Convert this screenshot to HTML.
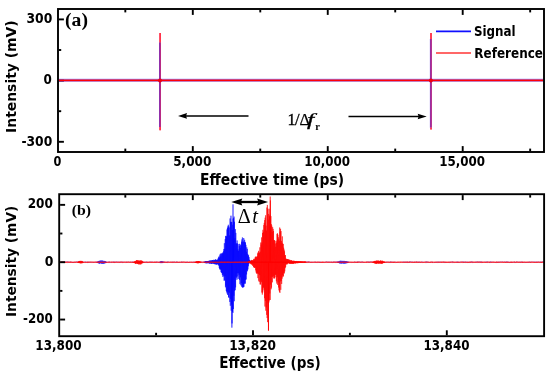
<!DOCTYPE html>
<html><head><meta charset="utf-8"><style>
html,body{margin:0;padding:0;background:#fff;width:550px;height:377px;overflow:hidden}
svg{display:block}
</style></head><body>
<svg width="550" height="377" viewBox="0 0 550 377">
<rect width="550" height="377" fill="#fff"/>
<rect x="58.00" y="9.00" width="486.00" height="143.00" fill="none" stroke="#000" stroke-width="1.9"/>
<line x1="125.32" y1="151.10" x2="125.32" y2="148.60" stroke="#000" stroke-width="1.9"/>
<line x1="125.32" y1="9.90" x2="125.32" y2="12.40" stroke="#000" stroke-width="1.9"/>
<line x1="192.80" y1="151.10" x2="192.80" y2="146.10" stroke="#000" stroke-width="1.9"/>
<line x1="192.80" y1="9.90" x2="192.80" y2="14.90" stroke="#000" stroke-width="1.9"/>
<line x1="260.27" y1="151.10" x2="260.27" y2="148.60" stroke="#000" stroke-width="1.9"/>
<line x1="260.27" y1="9.90" x2="260.27" y2="12.40" stroke="#000" stroke-width="1.9"/>
<line x1="327.75" y1="151.10" x2="327.75" y2="146.10" stroke="#000" stroke-width="1.9"/>
<line x1="327.75" y1="9.90" x2="327.75" y2="14.90" stroke="#000" stroke-width="1.9"/>
<line x1="395.22" y1="151.10" x2="395.22" y2="148.60" stroke="#000" stroke-width="1.9"/>
<line x1="395.22" y1="9.90" x2="395.22" y2="12.40" stroke="#000" stroke-width="1.9"/>
<line x1="462.70" y1="151.10" x2="462.70" y2="146.10" stroke="#000" stroke-width="1.9"/>
<line x1="462.70" y1="9.90" x2="462.70" y2="14.90" stroke="#000" stroke-width="1.9"/>
<line x1="530.17" y1="151.10" x2="530.17" y2="148.60" stroke="#000" stroke-width="1.9"/>
<line x1="530.17" y1="9.90" x2="530.17" y2="12.40" stroke="#000" stroke-width="1.9"/>
<line x1="58.90" y1="141.80" x2="63.90" y2="141.80" stroke="#000" stroke-width="1.9"/>
<line x1="58.90" y1="111.20" x2="61.20" y2="111.20" stroke="#000" stroke-width="1.9"/>
<line x1="58.90" y1="80.60" x2="63.90" y2="80.60" stroke="#000" stroke-width="1.9"/>
<line x1="58.90" y1="50.00" x2="61.20" y2="50.00" stroke="#000" stroke-width="1.9"/>
<line x1="58.90" y1="19.40" x2="63.90" y2="19.40" stroke="#000" stroke-width="1.9"/>
<line x1="59.0" y1="80.25" x2="543.0" y2="80.25" stroke="#3a30ff" stroke-width="3.1" opacity="0.55"/>
<line x1="59.0" y1="80.45" x2="543.0" y2="80.45" stroke="#ff0008" stroke-width="1.7"/>
<line x1="160.0" y1="42.2" x2="160.0" y2="127.0" stroke="#5a38e0" stroke-width="2"/>
<line x1="160.2" y1="33" x2="160.2" y2="130.2" stroke="#ff2040" stroke-width="1.5" opacity="0.6"/>
<line x1="160.1" y1="33" x2="160.1" y2="42.2" stroke="#ff3048" stroke-width="1.7"/>
<line x1="160.1" y1="127.0" x2="160.1" y2="130.2" stroke="#ff3048" stroke-width="1.7"/>
<circle cx="160.0" cy="80.4" r="2" fill="#f00010"/>
<line x1="430.9" y1="39.0" x2="430.9" y2="127.7" stroke="#5a38e0" stroke-width="2"/>
<line x1="431.09999999999997" y1="33" x2="431.09999999999997" y2="129.4" stroke="#ff2040" stroke-width="1.5" opacity="0.6"/>
<line x1="431.0" y1="33" x2="431.0" y2="39.0" stroke="#ff3048" stroke-width="1.7"/>
<line x1="431.0" y1="127.7" x2="431.0" y2="129.4" stroke="#ff3048" stroke-width="1.7"/>
<circle cx="430.9" cy="80.4" r="2" fill="#f00010"/>
<text x="53.60" y="165.90" font-family="'DejaVu Sans Condensed', 'DejaVu Sans', sans-serif" font-weight="bold" font-size="14" textLength="7.85" lengthAdjust="spacingAndGlyphs">0</text>
<text x="173.19" y="165.90" font-family="'DejaVu Sans Condensed', 'DejaVu Sans', sans-serif" font-weight="bold" font-size="14" textLength="38.19" lengthAdjust="spacingAndGlyphs">5,000</text>
<text x="304.18" y="165.80" font-family="'DejaVu Sans Condensed', 'DejaVu Sans', sans-serif" font-weight="bold" font-size="14" textLength="45.90" lengthAdjust="spacingAndGlyphs">10,000</text>
<text x="439.18" y="165.80" font-family="'DejaVu Sans Condensed', 'DejaVu Sans', sans-serif" font-weight="bold" font-size="14" textLength="45.90" lengthAdjust="spacingAndGlyphs">15,000</text>
<text x="26.48" y="23.00" font-family="'DejaVu Sans Condensed', 'DejaVu Sans', sans-serif" font-weight="bold" font-size="14" textLength="25.82" lengthAdjust="spacingAndGlyphs">300</text>
<text x="43.47" y="84.30" font-family="'DejaVu Sans Condensed', 'DejaVu Sans', sans-serif" font-weight="bold" font-size="14" textLength="8.31" lengthAdjust="spacingAndGlyphs">0</text>
<text x="21.45" y="145.50" font-family="'DejaVu Sans Condensed', 'DejaVu Sans', sans-serif" font-weight="bold" font-size="14" textLength="30.84" lengthAdjust="spacingAndGlyphs">-300</text>
<text x="200.07" y="185.00" font-family="'DejaVu Sans Condensed', 'DejaVu Sans', sans-serif" font-weight="bold" font-size="15.6" textLength="144.03" lengthAdjust="spacingAndGlyphs">Effective time (ps)</text>
<text transform="translate(16.10,132.94) rotate(-90)" x="0" y="0" font-family="'DejaVu Sans Condensed', 'DejaVu Sans', sans-serif" font-weight="bold" font-size="14.4" textLength="112.64" lengthAdjust="spacingAndGlyphs">Intensity (mV)</text>
<text x="65.05" y="25.60" font-family="'Liberation Serif', 'Times New Roman', serif" font-weight="bold" font-size="18" text-anchor="start" textLength="22.9" lengthAdjust="spacingAndGlyphs">(a)</text>
<line x1="436" y1="31.3" x2="471" y2="31.3" stroke="#1010ff" stroke-width="1.7"/>
<line x1="436" y1="53.0" x2="471" y2="53.0" stroke="#ff3535" stroke-width="1.5"/>
<text x="473.91" y="35.50" font-family="'DejaVu Sans Condensed', 'DejaVu Sans', sans-serif" font-weight="bold" font-size="13.7" textLength="41.69" lengthAdjust="spacingAndGlyphs">Signal</text>
<text x="474.33" y="57.70" font-family="'DejaVu Sans Condensed', 'DejaVu Sans', sans-serif" font-weight="bold" font-size="13.7" textLength="68.61" lengthAdjust="spacingAndGlyphs">Reference</text>
<line x1="183.40" y1="115.9" x2="248.5" y2="115.9" stroke="#000" stroke-width="1.5"/>
<path d="M178.0,115.9 L187.00,113.10 L186.10,115.9 L187.00,118.70 Z" fill="#000"/>
<line x1="421.30" y1="116.5" x2="348.5" y2="116.5" stroke="#000" stroke-width="1.5"/>
<path d="M426.7,116.5 L417.70,113.70 L418.60,116.5 L417.70,119.30 Z" fill="#000"/>
<text x="287.4" y="124.7" font-family="'Liberation Serif', 'Times New Roman', serif" font-size="16.3" letter-spacing="-0.5" stroke="#000" stroke-width="0.35">1/</text>
<text x="299.5" y="124.7" font-family="'Liberation Serif', 'Times New Roman', serif" font-size="16.3" stroke="#000" stroke-width="0.25">Δ</text>
<text x="306.9" y="124.7" font-family="'Liberation Serif', 'Times New Roman', serif" font-size="16.8" font-style="italic" stroke="#000" stroke-width="0.3" textLength="7.2" lengthAdjust="spacingAndGlyphs">f</text>
<text x="315.3" y="129.8" font-family="'Liberation Serif', 'Times New Roman', serif" font-size="10.5" font-weight="bold">r</text>
<polyline points="59.20,262.05 59.65,262.82 60.10,261.63 60.55,262.63 61.00,262.01 61.45,262.91 61.90,261.47 62.35,262.66 62.80,261.75 63.25,262.41 63.70,262.20 64.15,262.53 64.60,261.67 65.05,262.26 65.50,261.49 65.95,262.41 66.40,261.99 66.85,262.24 67.30,261.30 67.75,262.86 68.20,261.41 68.65,262.75 69.10,262.17 69.55,262.50 70.00,261.75 70.45,262.30 70.90,261.34 71.35,262.53 71.80,262.06 72.25,262.94 72.70,262.09 73.15,263.04 73.60,261.79 74.05,262.70 74.50,261.89 74.95,262.64 75.40,262.03 75.85,262.23 76.30,261.42 76.75,262.41 77.20,261.50 77.65,262.39 78.10,261.33 78.55,263.00 79.00,261.52 79.45,262.89 79.90,261.68 80.35,262.86 80.80,262.09 81.25,262.63 81.70,261.46 82.15,262.38 82.60,261.37 83.05,263.00 83.50,261.83 83.95,262.53 84.40,261.79 84.85,262.55 85.30,261.30 85.75,262.55 86.20,262.18 86.65,262.28 87.10,261.55 87.55,263.09 88.00,261.75 88.45,262.64 88.90,261.70 89.35,262.87 89.80,262.00 90.25,262.75 90.70,261.70 91.15,262.76 91.60,262.04 92.05,262.35 92.50,261.89 92.95,263.03 93.40,261.89 93.85,262.74 94.30,261.92 94.75,262.29 95.20,262.14 95.65,262.93 96.10,261.50 96.55,262.54 97.00,261.58 97.45,262.81 97.90,261.39 98.35,263.06 98.80,261.83 99.25,263.09 99.70,261.33 100.15,262.73 100.60,261.41 101.05,262.64 101.50,261.86 101.95,262.42 102.40,261.41 102.85,262.35 103.30,262.14 103.75,262.92 104.20,261.50 104.65,262.63 105.10,261.45 105.55,262.25 106.00,261.97 106.45,262.46 106.90,261.82 107.35,262.35 107.80,262.14 108.25,262.50 108.70,261.39 109.15,263.09 109.60,261.53 110.05,262.63 110.50,261.97 110.95,263.06 111.40,261.73 111.85,262.86 112.30,262.17 112.75,262.39 113.20,261.45 113.65,262.92 114.10,261.41 114.55,262.74 115.00,261.82 115.45,262.72 115.90,261.44 116.35,262.48 116.80,261.72 117.25,262.45 117.70,261.51 118.15,262.21 118.60,261.58 119.05,263.06 119.50,262.18 119.95,262.73 120.40,261.62 120.85,262.97 121.30,261.67 121.75,262.43 122.20,261.83 122.65,263.06 123.10,261.38 123.55,262.32 124.00,262.11 124.45,262.28 124.90,262.18 125.35,262.60 125.80,262.07 126.25,262.98 126.70,261.61 127.15,262.31 127.60,261.72 128.05,262.49 128.50,261.76 128.95,262.40 129.40,262.05 129.85,262.37 130.30,261.86 130.75,262.84 131.20,261.70 131.65,262.24 132.10,261.56 132.55,262.99 133.00,261.50 133.45,262.91 133.90,262.19 134.35,262.62 134.80,262.14 135.25,262.89 135.70,262.04 136.15,262.84 136.60,261.97 137.05,262.83 137.50,261.92 137.95,262.24 138.40,261.85 138.85,262.48 139.30,261.39 139.75,262.47 140.20,261.75 140.65,262.69 141.10,261.35 141.55,262.29 142.00,261.66 142.45,262.66 142.90,261.54 143.35,263.07 143.80,261.92 144.25,262.83 144.70,261.73 145.15,262.70 145.60,262.14 146.05,262.93 146.50,261.32 146.95,262.52 147.40,261.91 147.85,263.09 148.30,262.10 148.75,262.27 149.20,262.13 149.65,262.93 150.10,261.52 150.55,262.60 151.00,261.64 151.45,262.22 151.90,261.62 152.35,262.60 152.80,261.73 153.25,262.55 153.70,261.84 154.15,262.40 154.60,262.16 155.05,262.59 155.50,261.98 155.95,262.83 156.40,261.46 156.85,262.85 157.30,261.79 157.75,262.41 158.20,261.85 158.65,262.64 159.10,261.63 159.55,263.07 160.00,262.12 160.45,262.63 160.90,261.76 161.35,262.85 161.80,261.40 162.25,262.90 162.70,261.64 163.15,262.88 163.60,261.60 164.05,262.97 164.50,261.57 164.95,262.81 165.40,261.98 165.85,263.03 166.30,261.85 166.75,262.75 167.20,261.46 167.65,263.07 168.10,261.31 168.55,262.21 169.00,261.92 169.45,262.48 169.90,261.85 170.35,262.33 170.80,261.70 171.25,262.27 171.70,261.93 172.15,263.05 172.60,261.53 173.05,262.62 173.50,262.10 173.95,263.06 174.40,261.57 174.85,262.39 175.30,261.90 175.75,262.78 176.20,261.59 176.65,262.43 177.10,261.34 177.55,262.49 178.00,261.97 178.45,262.96 178.90,262.06 179.35,262.81 179.80,262.02 180.25,262.74 180.70,261.95 181.15,262.54 181.60,261.35 182.05,262.62 182.50,261.81 182.95,262.76 183.40,261.95 183.85,262.36 184.30,261.85 184.75,262.45 185.20,262.03 185.65,263.06 186.10,262.17 186.55,262.93 187.00,261.36 187.45,262.83 187.90,262.18 188.35,262.65 188.80,262.16 189.25,262.75 189.70,261.57 190.15,262.42 190.60,262.19 191.05,262.69 191.50,262.11 191.95,262.48 192.40,261.79 192.85,263.01 193.30,261.87 193.75,262.32 194.20,261.49 194.65,262.94 195.10,261.72 195.55,262.24 196.00,262.03 196.45,262.56 196.90,261.70 197.35,262.40 197.80,261.48 198.25,262.96 198.70,261.37 199.15,263.00 199.60,262.18 200.05,262.72 200.50,262.13 200.95,263.01 201.40,261.53 201.85,262.88 202.30,262.03 202.75,262.25 203.20,261.47 203.65,262.75 204.10,261.64 204.55,262.62 205.00,261.48 205.45,262.50 205.90,261.96 206.35,262.52 206.80,261.93 207.25,262.76 207.70,261.40 208.15,262.26 208.60,262.14 209.05,262.66 209.50,261.59 209.95,262.37 210.40,261.96 210.85,262.25 211.30,262.17 211.75,262.65 212.20,261.59 212.65,262.79 213.10,262.06 213.55,262.29 214.00,261.36 214.45,262.68 214.90,261.83 215.35,262.82 215.80,261.54 216.25,262.67 216.70,262.13 217.15,262.94 217.60,262.01 218.05,262.24 218.50,261.88 218.95,262.68 219.40,261.63 219.85,262.36 220.30,261.56 220.75,262.64 221.20,262.05 221.65,262.97 222.10,261.47 222.55,263.02 223.00,261.59 223.45,262.40 223.90,261.50 224.35,263.01 224.80,261.72 225.25,263.02 225.70,261.33 226.15,262.55 226.60,261.35 227.05,263.04 227.50,261.49 227.95,262.21 228.40,261.88 228.85,262.75 229.30,261.65 229.75,262.88 230.20,261.62 230.65,262.35 231.10,261.36 231.55,262.68 232.00,261.41 232.45,262.39 232.90,261.30 233.35,262.70 233.80,261.50 234.25,262.87 234.70,261.41 235.15,262.53 235.60,262.13 236.05,262.57 236.50,262.04 236.95,262.69 237.40,261.47 237.85,262.53 238.30,262.08 238.75,262.22 239.20,261.82 239.65,262.72 240.10,262.18 240.55,262.80 241.00,262.01 241.45,262.30 241.90,261.37 242.35,262.67 242.80,261.39 243.25,262.66 243.70,262.09 244.15,262.42 244.60,261.82 245.05,262.78 245.50,261.51 245.95,262.88 246.40,261.61 246.85,262.43 247.30,261.81 247.75,262.54 248.20,261.76 248.65,262.44 249.10,261.72 249.55,262.61 250.00,262.17 250.45,262.94 250.90,261.67 251.35,262.92 251.80,261.54 252.25,262.86 252.70,261.31 253.15,262.54 253.60,261.85 254.05,262.20 254.50,261.60 254.95,262.72 255.40,261.68 255.85,263.10 256.30,262.02 256.75,262.40 257.20,261.54 257.65,262.93 258.10,261.77 258.55,262.25 259.00,261.87 259.45,262.94 259.90,261.75 260.35,262.62 260.80,261.85 261.25,262.77 261.70,261.66 262.15,262.82 262.60,261.42 263.05,262.88 263.50,261.86 263.95,262.43 264.40,261.50 264.85,262.91 265.30,261.36 265.75,262.38 266.20,261.44 266.65,263.00 267.10,262.13 267.55,262.48 268.00,261.63 268.45,262.33 268.90,261.45 269.35,262.44 269.80,261.59 270.25,262.47 270.70,262.00 271.15,262.39 271.60,261.75 272.05,262.84 272.50,262.00 272.95,262.82 273.40,261.90 273.85,262.78 274.30,261.87 274.75,262.37 275.20,262.07 275.65,262.25 276.10,261.57 276.55,262.57 277.00,262.09 277.45,262.99 277.90,261.61 278.35,262.22 278.80,261.55 279.25,262.74 279.70,261.80 280.15,262.65 280.60,261.33 281.05,262.54 281.50,261.63 281.95,262.77 282.40,261.87 282.85,262.51 283.30,261.52 283.75,262.77 284.20,261.79 284.65,262.66 285.10,262.00 285.55,262.91 286.00,262.18 286.45,262.78 286.90,261.79 287.35,262.40 287.80,261.67 288.25,262.72 288.70,262.12 289.15,262.64 289.60,262.05 290.05,262.92 290.50,261.91 290.95,262.50 291.40,262.01 291.85,262.24 292.30,262.03 292.75,262.34 293.20,261.64 293.65,262.96 294.10,262.00 294.55,262.30 295.00,261.72 295.45,262.30 295.90,261.84 296.35,262.88 296.80,262.02 297.25,262.83 297.70,261.72 298.15,262.28 298.60,261.98 299.05,262.74 299.50,262.11 299.95,262.38 300.40,261.68 300.85,262.94 301.30,261.73 301.75,262.80 302.20,262.19 302.65,262.47 303.10,261.91 303.55,263.02 304.00,261.88 304.45,262.91 304.90,262.17 305.35,262.65 305.80,261.40 306.25,262.89 306.70,261.68 307.15,262.36 307.60,261.37 308.05,262.27 308.50,261.33 308.95,262.90 309.40,261.55 309.85,262.68 310.30,262.05 310.75,262.51 311.20,261.60 311.65,262.79 312.10,261.85 312.55,262.92 313.00,262.15 313.45,262.46 313.90,262.12 314.35,262.49 314.80,261.49 315.25,262.88 315.70,262.07 316.15,262.48 316.60,262.10 317.05,262.80 317.50,261.80 317.95,262.41 318.40,261.86 318.85,262.98 319.30,261.82 319.75,262.82 320.20,261.64 320.65,262.63 321.10,261.70 321.55,262.53 322.00,262.02 322.45,262.64 322.90,261.93 323.35,262.50 323.80,262.03 324.25,263.02 324.70,261.82 325.15,262.38 325.60,262.17 326.05,262.39 326.50,261.42 326.95,262.50 327.40,261.60 327.85,262.41 328.30,261.61 328.75,262.61 329.20,261.54 329.65,262.68 330.10,261.86 330.55,262.45 331.00,261.67 331.45,262.95 331.90,261.58 332.35,262.63 332.80,261.90 333.25,263.00 333.70,261.44 334.15,262.33 334.60,261.59 335.05,262.89 335.50,261.59 335.95,263.07 336.40,261.41 336.85,262.42 337.30,261.30 337.75,262.49 338.20,261.86 338.65,263.08 339.10,262.05 339.55,262.56 340.00,261.64 340.45,262.45 340.90,261.96 341.35,262.91 341.80,261.65 342.25,262.87 342.70,261.49 343.15,262.98 343.60,261.40 344.05,262.94 344.50,261.32 344.95,262.65 345.40,261.57 345.85,262.66 346.30,261.33 346.75,262.79 347.20,261.81 347.65,262.80 348.10,261.93 348.55,262.32 349.00,261.85 349.45,262.32 349.90,262.20 350.35,262.28 350.80,261.79 351.25,262.89 351.70,262.16 352.15,262.77 352.60,262.10 353.05,262.66 353.50,261.93 353.95,262.60 354.40,261.56 354.85,262.57 355.30,261.85 355.75,262.86 356.20,262.10 356.65,262.51 357.10,261.57 357.55,262.95 358.00,261.32 358.45,262.43 358.90,261.64 359.35,262.48 359.80,261.57 360.25,262.96 360.70,262.08 361.15,262.51 361.60,261.36 362.05,262.52 362.50,261.63 362.95,262.94 363.40,261.95 363.85,262.91 364.30,262.20 364.75,262.51 365.20,262.05 365.65,262.51 366.10,262.01 366.55,262.22 367.00,261.48 367.45,262.36 367.90,261.68 368.35,262.70 368.80,261.44 369.25,262.96 369.70,261.64 370.15,262.35 370.60,261.52 371.05,262.29 371.50,261.36 371.95,262.48 372.40,261.97 372.85,262.39 373.30,261.84 373.75,262.91 374.20,261.43 374.65,262.87 375.10,261.54 375.55,262.42 376.00,261.91 376.45,262.47 376.90,261.81 377.35,262.99 377.80,261.30 378.25,262.28 378.70,261.33 379.15,263.03 379.60,261.79 380.05,262.82 380.50,261.49 380.95,262.37 381.40,261.65 381.85,263.08 382.30,261.41 382.75,263.02 383.20,262.12 383.65,262.84 384.10,261.76 384.55,263.02 385.00,262.05 385.45,262.69 385.90,262.09 386.35,262.92 386.80,261.55 387.25,262.23 387.70,261.92 388.15,262.33 388.60,261.63 389.05,262.77 389.50,262.14 389.95,263.06 390.40,261.33 390.85,262.60 391.30,261.68 391.75,262.53 392.20,261.65 392.65,262.56 393.10,261.80 393.55,262.87 394.00,262.03 394.45,262.47 394.90,261.51 395.35,262.40 395.80,262.14 396.25,263.02 396.70,262.06 397.15,262.57 397.60,261.92 398.05,262.44 398.50,261.88 398.95,262.68 399.40,262.10 399.85,262.68 400.30,262.15 400.75,262.27 401.20,262.02 401.65,262.42 402.10,261.89 402.55,262.46 403.00,261.45 403.45,262.79 403.90,261.77 404.35,262.89 404.80,261.58 405.25,262.48 405.70,261.65 406.15,262.87 406.60,261.72 407.05,262.88 407.50,261.63 407.95,263.04 408.40,261.96 408.85,262.80 409.30,261.32 409.75,262.68 410.20,261.39 410.65,262.29 411.10,261.55 411.55,262.44 412.00,261.52 412.45,262.58 412.90,261.72 413.35,262.42 413.80,261.97 414.25,262.98 414.70,261.62 415.15,262.77 415.60,262.10 416.05,262.46 416.50,261.33 416.95,262.38 417.40,261.72 417.85,262.83 418.30,261.74 418.75,262.70 419.20,261.33 419.65,262.90 420.10,261.99 420.55,262.59 421.00,261.82 421.45,262.82 421.90,261.59 422.35,262.43 422.80,261.58 423.25,262.59 423.70,262.19 424.15,262.46 424.60,261.86 425.05,262.38 425.50,261.60 425.95,263.09 426.40,261.36 426.85,262.77 427.30,261.43 427.75,262.64 428.20,261.67 428.65,263.00 429.10,262.15 429.55,262.53 430.00,261.86 430.45,262.51 430.90,261.81 431.35,262.25 431.80,261.59 432.25,263.06 432.70,261.99 433.15,262.37 433.60,261.90 434.05,262.92 434.50,262.00 434.95,262.89 435.40,262.04 435.85,262.74 436.30,261.55 436.75,262.81 437.20,262.12 437.65,263.06 438.10,261.44 438.55,262.63 439.00,261.43 439.45,262.74 439.90,262.05 440.35,262.56 440.80,261.46 441.25,262.62 441.70,262.16 442.15,262.35 442.60,262.03 443.05,262.73 443.50,261.62 443.95,262.60 444.40,261.84 444.85,263.07 445.30,261.89 445.75,262.80 446.20,262.02 446.65,262.66 447.10,262.04 447.55,262.30 448.00,261.90 448.45,262.30 448.90,261.86 449.35,262.79 449.80,261.71 450.25,262.92 450.70,261.77 451.15,262.28 451.60,261.55 452.05,262.56 452.50,261.52 452.95,263.08 453.40,261.73 453.85,262.43 454.30,261.88 454.75,262.65 455.20,261.91 455.65,262.29 456.10,261.84 456.55,262.79 457.00,261.47 457.45,262.89 457.90,261.40 458.35,262.92 458.80,261.83 459.25,262.78 459.70,262.15 460.15,262.91 460.60,261.56 461.05,262.44 461.50,261.77 461.95,262.44 462.40,261.48 462.85,262.58 463.30,261.50 463.75,263.03 464.20,261.50 464.65,262.54 465.10,261.89 465.55,263.05 466.00,261.39 466.45,262.37 466.90,261.87 467.35,262.91 467.80,261.52 468.25,262.45 468.70,261.80 469.15,263.07 469.60,262.12 470.05,262.45 470.50,261.60 470.95,263.02 471.40,261.35 471.85,262.62 472.30,261.49 472.75,263.08 473.20,261.90 473.65,262.40 474.10,261.97 474.55,262.90 475.00,262.07 475.45,262.69 475.90,261.36 476.35,262.38 476.80,261.63 477.25,262.68 477.70,261.33 478.15,262.66 478.60,261.76 479.05,263.01 479.50,261.52 479.95,262.33 480.40,261.48 480.85,262.56 481.30,261.33 481.75,263.07 482.20,261.76 482.65,262.57 483.10,262.00 483.55,262.45 484.00,262.01 484.45,262.35 484.90,261.54 485.35,262.25 485.80,261.66 486.25,262.74 486.70,261.54 487.15,262.71 487.60,261.37 488.05,262.45 488.50,262.12 488.95,262.72 489.40,261.96 489.85,263.09 490.30,261.37 490.75,262.82 491.20,261.45 491.65,262.42 492.10,261.76 492.55,262.54 493.00,261.89 493.45,262.54 493.90,261.77 494.35,262.79 494.80,262.18 495.25,262.69 495.70,262.08 496.15,263.07 496.60,261.70 497.05,262.73 497.50,261.92 497.95,262.84 498.40,261.56 498.85,263.02 499.30,261.68 499.75,262.44 500.20,261.63 500.65,262.25 501.10,261.53 501.55,262.48 502.00,261.55 502.45,262.32 502.90,261.66 503.35,262.35 503.80,262.17 504.25,262.44 504.70,261.44 505.15,262.55 505.60,261.73 506.05,262.91 506.50,261.32 506.95,262.43 507.40,261.58 507.85,262.90 508.30,261.49 508.75,262.51 509.20,261.77 509.65,262.91 510.10,261.97 510.55,262.64 511.00,261.63 511.45,262.97 511.90,261.98 512.35,262.80 512.80,262.00 513.25,262.34 513.70,261.77 514.15,262.78 514.60,261.62 515.05,263.05 515.50,262.05 515.95,262.68 516.40,261.77 516.85,262.43 517.30,261.37 517.75,262.33 518.20,261.97 518.65,262.24 519.10,261.62 519.55,262.79 520.00,262.00 520.45,263.03 520.90,261.63 521.35,262.38 521.80,261.35 522.25,262.97 522.70,261.92 523.15,262.98 523.60,262.08 524.05,262.51 524.50,261.82 524.95,263.06 525.40,261.93 525.85,262.55 526.30,262.01 526.75,262.94 527.20,262.03 527.65,262.96 528.10,261.89 528.55,262.69 529.00,261.41 529.45,262.44 529.90,261.72 530.35,262.77 530.80,261.68 531.25,262.57 531.70,261.62 532.15,262.48 532.60,262.06 533.05,262.21 533.50,261.65 533.95,262.72 534.40,261.48 534.85,262.34 535.30,261.59 535.75,262.61 536.20,261.73 536.65,262.95 537.10,261.73 537.55,262.59 538.00,261.62 538.45,262.33 538.90,261.41 539.35,262.67 539.80,262.16 540.25,262.63 540.70,261.35 541.15,263.08 541.60,261.82 542.05,262.44 542.50,261.36 542.95,262.46 543.40,262.18 543.85,262.42" fill="none" stroke="#4030ff" stroke-width="0.6" opacity="0.5"/>
<polyline points="96.80,262.04 97.10,262.51 97.40,261.86 97.70,262.86 98.00,261.60 98.30,263.24 98.60,261.07 98.90,263.38 99.20,260.88 99.50,263.80 99.80,260.77 100.10,263.20 100.40,260.60 100.70,263.35 101.00,260.69 101.30,263.62 101.60,260.60 101.90,263.80 102.20,260.60 102.50,263.67 102.80,260.64 103.10,263.80 103.40,261.15 103.70,263.78 104.00,260.84 104.30,263.48 104.60,261.14 104.90,263.25 105.20,261.10 105.50,263.10 105.80,261.44 106.10,262.79 106.40,261.92 106.70,262.46" fill="none" stroke="#2020ff" stroke-width="0.6" stroke-linejoin="round"/>
<polyline points="337.00,262.07 337.30,262.41 337.60,261.87 337.90,262.76 338.20,261.52 338.50,263.00 338.80,261.45 339.10,262.90 339.40,261.40 339.70,263.48 340.00,260.80 340.30,263.60 340.60,260.80 340.90,263.21 341.20,260.95 341.50,263.60 341.80,260.80 342.10,263.38 342.40,261.08 342.70,263.31 343.00,260.84 343.30,263.60 343.60,261.19 343.90,263.60 344.20,260.87 344.50,263.60 344.80,261.13 345.10,263.28 345.40,261.19 345.70,263.60 346.00,261.33 346.30,263.11 346.60,261.29 346.90,263.24 347.20,261.50 347.50,262.88 347.80,261.70 348.10,262.76 348.40,261.84 348.70,262.52" fill="none" stroke="#2020ff" stroke-width="0.6" stroke-linejoin="round"/>
<polyline points="159.70,262.02 160.00,262.64 160.30,261.52 160.60,263.12 160.90,261.20 161.20,262.99 161.50,261.20 161.80,263.16 162.10,261.41 162.40,263.02 162.70,261.59 163.00,262.74 163.30,261.68 163.60,262.48" fill="none" stroke="#2020ff" stroke-width="0.6" stroke-linejoin="round"/>
<polyline points="203.90,262.00 204.20,262.59 204.50,261.79 204.80,262.87 205.10,261.33 205.40,263.11 205.70,261.28 206.00,263.20 206.30,261.38 206.60,262.88 206.90,261.28 207.20,263.12 207.50,261.26 207.80,262.78 208.10,261.49 208.40,262.72 208.70,261.99" fill="none" stroke="#2020ff" stroke-width="0.6" stroke-linejoin="round"/>
<polyline points="205.00,261.62 205.22,263.03 205.44,261.57 205.66,262.79 205.88,261.46 206.10,263.14 206.32,261.52 206.54,263.12 206.76,261.56 206.98,263.25 207.20,261.09 207.42,263.13 207.64,261.48 207.86,262.92 208.08,261.31 208.30,263.15 208.52,260.93 208.74,263.29 208.96,260.95 209.18,263.14 209.40,260.68 209.62,263.58 209.84,260.59 210.06,263.63 210.28,261.03 210.50,263.13 210.72,260.43 210.94,263.65 211.16,260.38 211.38,263.80 211.60,260.87 211.82,263.85 212.04,260.20 212.26,263.27 212.48,260.28 212.70,263.32 212.92,260.05 213.14,264.02 213.36,260.59 213.58,263.37 213.80,259.76 214.02,263.79 214.24,260.46 214.46,264.18 214.68,259.88 214.90,263.77 215.12,260.19 215.34,264.29 215.56,259.23 215.78,264.25 216.00,259.85 216.22,264.40 216.44,260.13 216.66,264.46 216.88,259.83 217.10,264.55 217.32,259.69 217.54,263.83 217.76,259.67 217.98,264.29 218.20,258.18 218.42,265.34 218.64,257.25 218.86,265.38 219.08,256.39 219.30,268.03 219.52,257.69 219.74,269.06 219.96,254.67 220.18,269.93 220.40,253.79 220.62,269.05 220.84,256.45 221.06,272.16 221.28,253.15 221.50,272.55 221.72,254.17 221.94,273.13 222.16,253.82 222.38,274.88 222.60,252.62 222.82,276.85 223.04,253.19 223.26,274.52 223.48,251.32 223.70,276.29 223.92,249.08 224.14,280.70 224.36,243.20 224.58,280.34 224.80,248.82 225.02,276.10 225.24,239.07 225.46,287.30 225.68,235.92 225.90,285.53 226.12,235.94 226.34,291.01 226.56,236.63 226.78,292.34 227.00,229.44 227.22,293.66 227.44,227.93 227.66,294.98 227.88,226.41 228.10,291.92 228.32,224.78 228.54,297.08 228.76,226.39 228.98,297.96 229.20,227.55 229.42,292.72 229.64,235.44 229.86,301.94 230.08,218.47 230.30,305.77 230.52,221.87 230.74,298.91 230.96,215.70 231.18,310.73 231.40,221.95 231.62,304.41 231.84,221.94 232.06,323.41 232.28,230.01 232.50,311.81 232.72,224.74 232.94,312.86 233.16,218.69 233.38,309.04 233.60,218.17 233.82,295.74 234.04,216.57 234.26,301.22 234.48,221.76 234.70,290.86 234.92,238.19 235.14,290.04 235.36,229.18 235.58,287.36 235.80,232.86 236.02,276.51 236.24,243.87 236.46,277.60 236.68,243.24 236.90,279.79 237.12,240.48 237.34,273.21 237.56,243.52 237.78,276.48 238.00,249.44 238.22,278.96 238.44,250.96 238.66,273.23 238.88,244.14 239.10,274.93 239.32,246.07 239.54,279.85 239.76,243.80 239.98,284.11 240.20,247.92 240.42,277.32 240.64,244.77 240.86,285.32 241.08,245.77 241.30,283.06 241.52,241.71 241.74,286.54 241.96,239.43 242.18,287.14 242.40,237.44 242.62,287.75 242.84,241.95 243.06,286.82 243.28,241.48 243.50,287.30 243.72,238.04 243.94,286.86 244.16,242.17 244.38,283.73 244.60,239.80 244.82,283.22 245.04,241.90 245.26,283.70 245.48,242.63 245.70,279.88 245.92,244.85 246.14,279.30 246.36,251.80 246.58,274.42 246.80,247.35 247.02,269.83 247.24,248.93 247.46,271.25 247.68,253.83 247.90,269.40 248.12,256.03 248.34,266.26 248.56,254.89 248.78,264.08 249.00,257.05 249.22,263.15 249.44,259.81 249.66,263.14 249.88,260.10 250.10,262.80 250.32,260.86 250.54,262.75 250.76,261.09 250.98,262.73 251.20,261.51 251.42,262.66 251.64,261.66 251.86,262.65 252.08,261.57 252.30,262.60 252.52,261.59 252.74,262.61 252.96,261.84 253.18,262.58 253.40,261.64 253.62,262.68 253.84,261.78 254.06,262.56 254.28,261.70 254.50,262.65 254.72,261.85 254.94,262.57 255.16,261.75 255.38,262.58 255.60,261.91 255.82,262.56" fill="none" stroke="#0000ff" stroke-width="0.55" stroke-linejoin="round"/>
<line x1="233.0" y1="262.2" x2="233.0" y2="204.3" stroke="#0000ff" stroke-width="0.9"/>
<line x1="231.9" y1="262.2" x2="231.9" y2="327.7" stroke="#0000ff" stroke-width="0.9"/>
<polyline points="59.20,261.77 59.65,262.26 60.10,262.19 60.55,262.65 61.00,262.12 61.45,262.25 61.90,261.91 62.35,262.36 62.80,261.80 63.25,262.30 63.70,261.77 64.15,262.34 64.60,261.93 65.05,262.62 65.50,261.89 65.95,262.62 66.40,261.88 66.85,262.22 67.30,261.80 67.75,262.47 68.20,262.06 68.65,262.29 69.10,261.82 69.55,262.46 70.00,261.78 70.45,262.55 70.90,261.77 71.35,262.45 71.80,261.89 72.25,262.48 72.70,262.08 73.15,262.63 73.60,262.06 74.05,262.55 74.50,261.77 74.95,262.49 75.40,262.14 75.85,262.57 76.30,261.90 76.75,262.28 77.20,262.18 77.65,262.44 78.10,262.19 78.55,262.62 79.00,261.97 79.45,262.43 79.90,262.02 80.35,262.50 80.80,261.79 81.25,262.34 81.70,262.03 82.15,262.46 82.60,262.07 83.05,262.47 83.50,261.96 83.95,262.40 84.40,261.90 84.85,262.44 85.30,262.16 85.75,262.65 86.20,262.04 86.65,262.39 87.10,262.02 87.55,262.62 88.00,261.77 88.45,262.43 88.90,262.02 89.35,262.24 89.80,261.80 90.25,262.28 90.70,261.95 91.15,262.36 91.60,262.05 92.05,262.36 92.50,262.11 92.95,262.22 93.40,261.96 93.85,262.56 94.30,261.91 94.75,262.29 95.20,261.89 95.65,262.22 96.10,262.02 96.55,262.57 97.00,261.79 97.45,262.41 97.90,261.82 98.35,262.42 98.80,261.96 99.25,262.46 99.70,261.75 100.15,262.53 100.60,261.99 101.05,262.53 101.50,261.91 101.95,262.36 102.40,261.85 102.85,262.57 103.30,261.93 103.75,262.62 104.20,262.19 104.65,262.43 105.10,261.91 105.55,262.35 106.00,262.12 106.45,262.51 106.90,262.00 107.35,262.32 107.80,262.18 108.25,262.64 108.70,262.04 109.15,262.25 109.60,262.10 110.05,262.31 110.50,261.81 110.95,262.28 111.40,262.08 111.85,262.24 112.30,261.99 112.75,262.29 113.20,262.05 113.65,262.53 114.10,261.78 114.55,262.58 115.00,262.18 115.45,262.37 115.90,261.82 116.35,262.21 116.80,262.11 117.25,262.42 117.70,262.03 118.15,262.54 118.60,261.88 119.05,262.41 119.50,262.09 119.95,262.30 120.40,262.08 120.85,262.23 121.30,261.90 121.75,262.27 122.20,261.80 122.65,262.49 123.10,262.17 123.55,262.42 124.00,261.93 124.45,262.22 124.90,261.98 125.35,262.21 125.80,261.86 126.25,262.20 126.70,261.92 127.15,262.64 127.60,261.82 128.05,262.30 128.50,261.96 128.95,262.26 129.40,262.05 129.85,262.59 130.30,261.83 130.75,262.20 131.20,262.03 131.65,262.49 132.10,262.12 132.55,262.56 133.00,261.80 133.45,262.45 133.90,262.04 134.35,262.58 134.80,261.97 135.25,262.28 135.70,262.08 136.15,262.27 136.60,261.82 137.05,262.43 137.50,261.89 137.95,262.57 138.40,261.76 138.85,262.29 139.30,262.02 139.75,262.59 140.20,261.86 140.65,262.37 141.10,261.90 141.55,262.29 142.00,262.13 142.45,262.22 142.90,262.03 143.35,262.31 143.80,261.97 144.25,262.64 144.70,262.13 145.15,262.45 145.60,261.81 146.05,262.47 146.50,261.96 146.95,262.55 147.40,262.19 147.85,262.63 148.30,261.89 148.75,262.56 149.20,261.83 149.65,262.24 150.10,262.17 150.55,262.28 151.00,261.97 151.45,262.62 151.90,261.79 152.35,262.39 152.80,261.92 153.25,262.53 153.70,262.05 154.15,262.64 154.60,261.78 155.05,262.53 155.50,261.79 155.95,262.56 156.40,261.91 156.85,262.34 157.30,262.07 157.75,262.31 158.20,262.17 158.65,262.62 159.10,262.07 159.55,262.21 160.00,262.06 160.45,262.25 160.90,262.00 161.35,262.35 161.80,262.12 162.25,262.41 162.70,262.01 163.15,262.36 163.60,261.83 164.05,262.34 164.50,261.96 164.95,262.60 165.40,261.77 165.85,262.37 166.30,262.18 166.75,262.63 167.20,261.97 167.65,262.30 168.10,262.14 168.55,262.31 169.00,262.06 169.45,262.26 169.90,262.18 170.35,262.65 170.80,261.83 171.25,262.25 171.70,261.98 172.15,262.56 172.60,261.97 173.05,262.23 173.50,262.05 173.95,262.37 174.40,261.79 174.85,262.46 175.30,261.99 175.75,262.48 176.20,262.18 176.65,262.51 177.10,261.84 177.55,262.50 178.00,262.04 178.45,262.33 178.90,262.20 179.35,262.24 179.80,262.13 180.25,262.40 180.70,261.85 181.15,262.30 181.60,261.99 182.05,262.49 182.50,261.92 182.95,262.21 183.40,261.79 183.85,262.46 184.30,262.06 184.75,262.31 185.20,261.89 185.65,262.62 186.10,262.05 186.55,262.38 187.00,261.95 187.45,262.28 187.90,262.02 188.35,262.61 188.80,261.95 189.25,262.57 189.70,262.08 190.15,262.59 190.60,261.85 191.05,262.30 191.50,261.96 191.95,262.51 192.40,261.94 192.85,262.47 193.30,262.09 193.75,262.45 194.20,262.04 194.65,262.56 195.10,262.03 195.55,262.64 196.00,261.94 196.45,262.30 196.90,262.01 197.35,262.26 197.80,261.87 198.25,262.22 198.70,261.93 199.15,262.34 199.60,261.85 200.05,262.26 200.50,261.89 200.95,262.52 201.40,262.10 201.85,262.26 202.30,262.03 202.75,262.49 203.20,262.08 203.65,262.20 204.10,262.00 204.55,262.56 205.00,262.13 205.45,262.62 205.90,261.97 206.35,262.27 206.80,262.15 207.25,262.37 207.70,261.99 208.15,262.28 208.60,262.16 209.05,262.43 209.50,262.09 209.95,262.40 210.40,262.00 210.85,262.51 211.30,261.94 211.75,262.30 212.20,262.12 212.65,262.59 213.10,262.18 213.55,262.26 214.00,262.17 214.45,262.57 214.90,261.96 215.35,262.62 215.80,261.92 216.25,262.35 216.70,262.01 217.15,262.53 217.60,262.10 218.05,262.56 218.50,262.02 218.95,262.22 219.40,262.05 219.85,262.45 220.30,262.13 220.75,262.61 221.20,261.78 221.65,262.43 222.10,261.79 222.55,262.51 223.00,261.96 223.45,262.27 223.90,261.77 224.35,262.61 224.80,262.00 225.25,262.37 225.70,262.17 226.15,262.48 226.60,261.82 227.05,262.37 227.50,262.07 227.95,262.48 228.40,261.84 228.85,262.28 229.30,262.07 229.75,262.49 230.20,262.18 230.65,262.57 231.10,262.06 231.55,262.57 232.00,262.00 232.45,262.27 232.90,262.19 233.35,262.25 233.80,262.08 234.25,262.54 234.70,261.84 235.15,262.48 235.60,262.06 236.05,262.50 236.50,261.87 236.95,262.37 237.40,262.16 237.85,262.41 238.30,262.10 238.75,262.28 239.20,262.02 239.65,262.23 240.10,261.80 240.55,262.33 241.00,261.80 241.45,262.53 241.90,262.20 242.35,262.60 242.80,261.84 243.25,262.44 243.70,261.80 244.15,262.42 244.60,262.19 245.05,262.27 245.50,262.06 245.95,262.59 246.40,261.83 246.85,262.25 247.30,262.04 247.75,262.25 248.20,262.10 248.65,262.36 249.10,262.01 249.55,262.27 250.00,261.90 250.45,262.31 250.90,261.80 251.35,262.42 251.80,262.01 252.25,262.54 252.70,262.04 253.15,262.32 253.60,262.14 254.05,262.33 254.50,262.09 254.95,262.53 255.40,262.04 255.85,262.52 256.30,262.08 256.75,262.23 257.20,262.06 257.65,262.38 258.10,261.79 258.55,262.29 259.00,262.10 259.45,262.27 259.90,262.09 260.35,262.63 260.80,261.78 261.25,262.30 261.70,262.18 262.15,262.42 262.60,261.94 263.05,262.25 263.50,262.01 263.95,262.55 264.40,262.20 264.85,262.52 265.30,261.89 265.75,262.55 266.20,261.98 266.65,262.41 267.10,261.97 267.55,262.26 268.00,261.97 268.45,262.31 268.90,262.06 269.35,262.22 269.80,262.13 270.25,262.22 270.70,261.96 271.15,262.31 271.60,261.95 272.05,262.43 272.50,262.10 272.95,262.26 273.40,261.93 273.85,262.50 274.30,261.89 274.75,262.43 275.20,261.94 275.65,262.21 276.10,262.06 276.55,262.56 277.00,262.03 277.45,262.25 277.90,262.01 278.35,262.58 278.80,262.16 279.25,262.25 279.70,261.98 280.15,262.59 280.60,262.02 281.05,262.31 281.50,261.85 281.95,262.24 282.40,262.07 282.85,262.47 283.30,261.82 283.75,262.59 284.20,262.05 284.65,262.32 285.10,262.04 285.55,262.25 286.00,262.08 286.45,262.54 286.90,261.76 287.35,262.32 287.80,262.17 288.25,262.53 288.70,261.77 289.15,262.56 289.60,262.01 290.05,262.53 290.50,261.86 290.95,262.53 291.40,261.98 291.85,262.65 292.30,261.85 292.75,262.31 293.20,262.01 293.65,262.24 294.10,262.03 294.55,262.57 295.00,261.98 295.45,262.44 295.90,261.85 296.35,262.24 296.80,262.04 297.25,262.42 297.70,261.98 298.15,262.51 298.60,261.78 299.05,262.56 299.50,261.95 299.95,262.51 300.40,261.96 300.85,262.64 301.30,261.93 301.75,262.47 302.20,262.02 302.65,262.39 303.10,261.86 303.55,262.37 304.00,261.79 304.45,262.53 304.90,261.77 305.35,262.52 305.80,261.94 306.25,262.37 306.70,262.19 307.15,262.50 307.60,261.86 308.05,262.53 308.50,261.86 308.95,262.22 309.40,261.89 309.85,262.33 310.30,262.03 310.75,262.59 311.20,262.02 311.65,262.41 312.10,262.18 312.55,262.28 313.00,262.11 313.45,262.30 313.90,261.96 314.35,262.22 314.80,262.16 315.25,262.24 315.70,261.87 316.15,262.64 316.60,261.86 317.05,262.43 317.50,262.14 317.95,262.55 318.40,262.14 318.85,262.23 319.30,261.97 319.75,262.59 320.20,262.06 320.65,262.59 321.10,262.05 321.55,262.63 322.00,261.87 322.45,262.59 322.90,261.76 323.35,262.57 323.80,262.11 324.25,262.43 324.70,261.95 325.15,262.53 325.60,262.10 326.05,262.46 326.50,262.07 326.95,262.28 327.40,262.00 327.85,262.56 328.30,261.95 328.75,262.36 329.20,262.10 329.65,262.36 330.10,262.02 330.55,262.32 331.00,262.06 331.45,262.30 331.90,262.07 332.35,262.50 332.80,261.92 333.25,262.48 333.70,261.78 334.15,262.50 334.60,262.14 335.05,262.38 335.50,261.96 335.95,262.54 336.40,261.96 336.85,262.24 337.30,261.99 337.75,262.49 338.20,261.85 338.65,262.40 339.10,262.10 339.55,262.22 340.00,261.97 340.45,262.54 340.90,262.15 341.35,262.44 341.80,261.93 342.25,262.45 342.70,262.10 343.15,262.24 343.60,262.19 344.05,262.34 344.50,261.80 344.95,262.39 345.40,261.76 345.85,262.57 346.30,261.94 346.75,262.40 347.20,261.95 347.65,262.58 348.10,262.05 348.55,262.27 349.00,261.80 349.45,262.48 349.90,262.03 350.35,262.38 350.80,262.15 351.25,262.46 351.70,261.85 352.15,262.42 352.60,261.89 353.05,262.53 353.50,262.05 353.95,262.49 354.40,261.76 354.85,262.52 355.30,262.12 355.75,262.50 356.20,261.91 356.65,262.55 357.10,261.88 357.55,262.61 358.00,261.76 358.45,262.29 358.90,261.98 359.35,262.22 359.80,261.76 360.25,262.25 360.70,262.01 361.15,262.48 361.60,262.01 362.05,262.28 362.50,261.97 362.95,262.30 363.40,261.98 363.85,262.52 364.30,262.07 364.75,262.40 365.20,261.92 365.65,262.44 366.10,261.84 366.55,262.60 367.00,261.76 367.45,262.27 367.90,261.98 368.35,262.25 368.80,261.89 369.25,262.38 369.70,261.82 370.15,262.42 370.60,261.84 371.05,262.21 371.50,261.92 371.95,262.39 372.40,261.83 372.85,262.25 373.30,262.16 373.75,262.51 374.20,262.05 374.65,262.40 375.10,262.02 375.55,262.64 376.00,261.92 376.45,262.57 376.90,261.82 377.35,262.59 377.80,262.00 378.25,262.33 378.70,261.97 379.15,262.60 379.60,261.80 380.05,262.42 380.50,261.79 380.95,262.54 381.40,262.18 381.85,262.49 382.30,261.84 382.75,262.22 383.20,262.03 383.65,262.49 384.10,261.97 384.55,262.44 385.00,262.16 385.45,262.32 385.90,261.81 386.35,262.36 386.80,261.98 387.25,262.47 387.70,262.07 388.15,262.39 388.60,261.97 389.05,262.59 389.50,261.82 389.95,262.28 390.40,261.97 390.85,262.54 391.30,261.80 391.75,262.44 392.20,261.92 392.65,262.49 393.10,261.90 393.55,262.60 394.00,261.76 394.45,262.65 394.90,262.14 395.35,262.52 395.80,262.03 396.25,262.33 396.70,262.16 397.15,262.61 397.60,261.80 398.05,262.44 398.50,261.98 398.95,262.29 399.40,261.78 399.85,262.54 400.30,262.12 400.75,262.46 401.20,261.75 401.65,262.32 402.10,262.03 402.55,262.36 403.00,262.03 403.45,262.25 403.90,261.92 404.35,262.31 404.80,261.89 405.25,262.41 405.70,261.82 406.15,262.54 406.60,261.81 407.05,262.27 407.50,261.84 407.95,262.55 408.40,262.07 408.85,262.20 409.30,262.16 409.75,262.55 410.20,261.76 410.65,262.23 411.10,262.09 411.55,262.38 412.00,262.17 412.45,262.49 412.90,261.81 413.35,262.58 413.80,262.12 414.25,262.61 414.70,261.85 415.15,262.27 415.60,261.82 416.05,262.62 416.50,261.80 416.95,262.54 417.40,261.83 417.85,262.44 418.30,262.20 418.75,262.51 419.20,261.98 419.65,262.27 420.10,262.14 420.55,262.60 421.00,261.79 421.45,262.22 421.90,262.19 422.35,262.51 422.80,262.07 423.25,262.59 423.70,261.99 424.15,262.52 424.60,262.18 425.05,262.55 425.50,262.11 425.95,262.39 426.40,261.98 426.85,262.35 427.30,262.09 427.75,262.40 428.20,262.18 428.65,262.27 429.10,262.14 429.55,262.58 430.00,262.06 430.45,262.64 430.90,261.79 431.35,262.27 431.80,261.81 432.25,262.64 432.70,262.00 433.15,262.42 433.60,261.90 434.05,262.42 434.50,262.08 434.95,262.53 435.40,262.10 435.85,262.37 436.30,262.19 436.75,262.35 437.20,261.84 437.65,262.26 438.10,262.11 438.55,262.38 439.00,262.07 439.45,262.20 439.90,262.18 440.35,262.29 440.80,261.84 441.25,262.55 441.70,261.84 442.15,262.51 442.60,261.75 443.05,262.32 443.50,261.88 443.95,262.40 444.40,261.77 444.85,262.40 445.30,261.87 445.75,262.55 446.20,261.77 446.65,262.54 447.10,262.05 447.55,262.49 448.00,261.84 448.45,262.62 448.90,262.09 449.35,262.53 449.80,261.88 450.25,262.27 450.70,262.15 451.15,262.45 451.60,261.93 452.05,262.35 452.50,261.92 452.95,262.27 453.40,261.94 453.85,262.44 454.30,261.83 454.75,262.52 455.20,262.16 455.65,262.45 456.10,262.14 456.55,262.44 457.00,261.89 457.45,262.52 457.90,262.20 458.35,262.44 458.80,262.12 459.25,262.43 459.70,261.98 460.15,262.42 460.60,261.86 461.05,262.33 461.50,261.99 461.95,262.31 462.40,262.11 462.85,262.48 463.30,262.13 463.75,262.56 464.20,262.03 464.65,262.25 465.10,261.85 465.55,262.21 466.00,262.07 466.45,262.49 466.90,262.19 467.35,262.52 467.80,261.95 468.25,262.64 468.70,262.06 469.15,262.57 469.60,261.76 470.05,262.42 470.50,262.17 470.95,262.35 471.40,261.83 471.85,262.20 472.30,261.92 472.75,262.43 473.20,261.87 473.65,262.37 474.10,261.78 474.55,262.25 475.00,262.01 475.45,262.34 475.90,261.95 476.35,262.30 476.80,262.03 477.25,262.40 477.70,261.78 478.15,262.21 478.60,262.07 479.05,262.27 479.50,261.88 479.95,262.55 480.40,262.19 480.85,262.55 481.30,261.80 481.75,262.41 482.20,261.93 482.65,262.56 483.10,261.78 483.55,262.30 484.00,261.88 484.45,262.24 484.90,262.04 485.35,262.61 485.80,261.92 486.25,262.44 486.70,262.00 487.15,262.41 487.60,262.19 488.05,262.45 488.50,261.78 488.95,262.25 489.40,262.18 489.85,262.48 490.30,261.83 490.75,262.39 491.20,262.16 491.65,262.49 492.10,261.90 492.55,262.30 493.00,261.83 493.45,262.44 493.90,261.85 494.35,262.31 494.80,262.04 495.25,262.50 495.70,261.90 496.15,262.58 496.60,261.78 497.05,262.52 497.50,262.20 497.95,262.41 498.40,261.90 498.85,262.55 499.30,262.06 499.75,262.23 500.20,261.94 500.65,262.29 501.10,261.97 501.55,262.30 502.00,261.80 502.45,262.21 502.90,261.95 503.35,262.60 503.80,261.91 504.25,262.27 504.70,261.95 505.15,262.57 505.60,261.92 506.05,262.61 506.50,261.83 506.95,262.37 507.40,262.14 507.85,262.51 508.30,261.98 508.75,262.57 509.20,262.00 509.65,262.52 510.10,262.14 510.55,262.54 511.00,261.81 511.45,262.56 511.90,261.85 512.35,262.50 512.80,262.12 513.25,262.35 513.70,262.07 514.15,262.33 514.60,261.94 515.05,262.36 515.50,261.90 515.95,262.60 516.40,261.75 516.85,262.20 517.30,261.93 517.75,262.46 518.20,262.01 518.65,262.53 519.10,261.80 519.55,262.31 520.00,261.91 520.45,262.27 520.90,262.00 521.35,262.36 521.80,261.83 522.25,262.61 522.70,261.81 523.15,262.44 523.60,261.88 524.05,262.49 524.50,261.96 524.95,262.26 525.40,262.08 525.85,262.63 526.30,261.93 526.75,262.25 527.20,262.04 527.65,262.26 528.10,262.14 528.55,262.37 529.00,262.07 529.45,262.21 529.90,261.98 530.35,262.62 530.80,261.99 531.25,262.38 531.70,262.03 532.15,262.32 532.60,262.05 533.05,262.29 533.50,262.01 533.95,262.61 534.40,262.04 534.85,262.60 535.30,261.98 535.75,262.49 536.20,261.98 536.65,262.38 537.10,261.80 537.55,262.47 538.00,262.11 538.45,262.34 538.90,262.02 539.35,262.45 539.80,262.03 540.25,262.32 540.70,262.06 541.15,262.65 541.60,261.87 542.05,262.59 542.50,261.80 542.95,262.26 543.40,261.96 543.85,262.53" fill="none" stroke="#ff0000" stroke-width="0.6" opacity="1.0"/>
<line x1="59.2" y1="262.2" x2="544.1" y2="262.2" stroke="#ff1010" stroke-width="0.8"/>
<polyline points="77.50,262.07 77.80,262.46 78.10,261.72 78.40,262.89 78.70,261.36 79.00,263.03 79.30,260.99 79.60,263.10 79.90,260.93 80.20,263.19 80.50,260.90 80.80,263.43 81.10,261.34 81.40,263.14 81.70,260.90 82.00,263.28 82.30,261.39 82.60,262.74 82.90,261.76 83.20,262.52 83.50,262.03" fill="none" stroke="#ff0000" stroke-width="0.6" stroke-linejoin="round"/>
<polyline points="133.50,262.00 133.80,262.58 134.10,261.74 134.40,263.08 134.70,261.25 135.00,263.25 135.30,261.14 135.60,264.00 135.90,260.80 136.20,263.68 136.50,260.18 136.80,263.56 137.10,260.11 137.40,263.98 137.70,260.38 138.00,264.04 138.30,260.39 138.60,264.30 138.90,260.82 139.20,264.25 139.50,260.78 139.80,264.30 140.10,260.33 140.40,264.30 140.70,260.64 141.00,264.30 141.30,260.50 141.60,263.64 141.90,260.78 142.20,263.39 142.50,261.24 142.80,262.70 143.10,261.79 143.40,262.37" fill="none" stroke="#ff0000" stroke-width="0.6" stroke-linejoin="round"/>
<polyline points="195.00,262.05 195.30,262.58 195.60,261.72 195.90,263.00 196.20,261.38 196.50,262.94 196.80,261.14 197.10,263.27 197.40,261.37 197.70,263.16 198.00,261.00 198.30,263.29 198.60,261.12 198.90,263.06 199.20,261.13 199.50,262.96 199.80,261.52 200.10,262.94 200.40,261.63 200.70,262.60" fill="none" stroke="#ff0000" stroke-width="0.6" stroke-linejoin="round"/>
<polyline points="372.30,262.05 372.60,262.43 372.90,261.72 373.20,262.82 373.50,261.70 373.80,262.85 374.10,261.19 374.40,263.37 374.70,260.97 375.00,263.29 375.30,260.82 375.60,263.69 375.90,261.09 376.20,263.90 376.50,260.50 376.80,263.90 377.10,261.15 377.40,263.31 377.70,260.50 378.00,263.47 378.30,260.50 378.60,263.59 378.90,261.14 379.20,263.79 379.50,261.03 379.80,263.25 380.10,260.62 380.40,263.58 380.70,260.50 381.00,263.61 381.30,260.77 381.60,263.75 381.90,261.07 382.20,263.83 382.50,260.71 382.80,263.24 383.10,261.34 383.40,262.92 383.70,261.47 384.00,262.89 384.30,261.54 384.60,262.72 384.90,261.92 385.20,262.35" fill="none" stroke="#ff0000" stroke-width="0.6" stroke-linejoin="round"/>
<polyline points="248.00,261.60 248.22,262.73 248.44,261.53 248.66,262.94 248.88,261.28 249.10,262.89 249.32,261.20 249.54,262.97 249.76,260.82 249.98,262.90 250.20,260.92 250.42,263.47 250.64,261.03 250.86,263.97 251.08,260.88 251.30,264.46 251.52,259.93 251.74,264.32 251.96,260.41 252.18,264.36 252.40,260.55 252.62,265.67 252.84,260.00 253.06,265.55 253.28,260.33 253.50,266.94 253.72,258.85 253.94,267.43 254.16,259.30 254.38,267.79 254.60,259.31 254.82,267.88 255.04,257.55 255.26,267.62 255.48,256.61 255.70,270.37 255.92,257.46 256.14,272.53 256.36,256.70 256.58,273.28 256.80,257.04 257.02,274.04 257.24,256.07 257.46,272.91 257.68,253.41 257.90,278.11 258.12,252.36 258.34,273.94 258.56,250.85 258.78,280.75 259.00,253.32 259.22,281.92 259.44,252.61 259.66,275.07 259.88,247.33 260.10,284.46 260.32,251.74 260.54,284.42 260.76,242.50 260.98,280.40 261.20,244.60 261.42,282.18 261.64,237.40 261.86,292.56 262.08,242.60 262.30,294.58 262.52,232.97 262.74,292.42 262.96,229.77 263.18,288.20 263.40,231.77 263.62,287.26 263.84,224.95 264.06,290.32 264.28,222.86 264.50,298.19 264.72,220.12 264.94,306.53 265.16,217.71 265.38,300.96 265.60,215.30 265.82,310.68 266.04,225.62 266.26,307.43 266.48,230.59 266.70,314.85 266.92,207.52 267.14,318.04 267.36,204.93 267.58,322.13 267.80,208.77 268.02,303.14 268.24,219.63 268.46,330.33 268.68,213.94 268.90,302.47 269.12,208.78 269.34,300.44 269.56,216.44 269.78,293.44 270.00,215.24 270.22,299.96 270.44,200.44 270.66,284.55 270.88,216.14 271.10,289.30 271.32,224.15 271.54,287.62 271.76,225.52 271.98,276.80 272.20,231.84 272.42,282.34 272.64,227.19 272.86,276.99 273.08,228.93 273.30,275.92 273.52,231.00 273.74,278.38 273.96,240.28 274.18,278.18 274.40,240.02 274.62,278.44 274.84,240.90 275.06,277.25 275.28,243.53 275.50,274.71 275.72,246.84 275.94,274.72 276.16,240.74 276.38,281.32 276.60,242.70 276.82,283.58 277.04,233.88 277.26,277.25 277.48,233.30 277.70,284.95 277.92,234.74 278.14,282.26 278.36,237.29 278.58,287.49 278.80,239.24 279.02,290.37 279.24,240.90 279.46,291.80 279.68,227.52 279.90,292.90 280.12,231.79 280.34,281.30 280.56,228.84 280.78,289.82 281.00,231.07 281.22,281.07 281.44,240.93 281.66,283.95 281.88,242.72 282.10,278.65 282.32,236.39 282.54,275.34 282.76,243.63 282.98,277.04 283.20,243.99 283.42,275.95 283.64,247.70 283.86,272.85 284.08,249.58 284.30,273.47 284.52,251.36 284.74,271.36 284.96,255.44 285.18,268.13 285.40,255.04 285.62,266.94 285.84,258.41 286.06,264.40 286.28,259.19 286.50,264.09 286.72,258.91 286.94,264.57 287.16,259.05 287.38,264.02 287.60,259.18 287.82,263.10 288.04,259.31 288.26,263.12 288.48,259.44 288.70,263.35 288.92,260.37 289.14,263.43 289.36,259.71 289.58,263.71 289.80,259.84 290.02,263.76 290.24,260.60 290.46,263.82 290.68,260.38 290.90,263.35 291.12,260.45 291.34,263.92 291.56,260.37 291.78,263.54 292.00,260.50 292.22,263.97 292.44,261.08 292.66,263.60 292.88,261.08 293.10,263.60 293.32,260.92 293.54,263.81 293.76,260.68 293.98,263.39 294.20,260.88 294.42,263.20 294.64,261.00 294.86,263.28 295.08,261.17 295.30,263.59 295.52,261.12 295.74,263.09 295.96,261.31 296.18,263.15 296.40,260.97 296.62,263.10 296.84,261.28 297.06,263.20 297.28,261.18 297.50,262.98 297.72,261.07 297.94,263.26 298.16,261.48 298.38,262.91 298.60,261.16 298.82,262.84 299.04,261.35 299.26,262.91 299.48,261.25 299.70,263.02 299.92,261.49 300.14,262.90 300.36,261.32 300.58,262.82 300.80,261.35 301.02,262.85 301.24,261.48 301.46,262.73 301.68,261.45 301.90,262.90 302.12,261.45 302.34,262.88 302.56,261.52 302.78,262.68 303.00,261.66 303.22,262.60 303.44,261.72 303.66,262.60 303.88,261.56 304.10,262.67 304.32,261.60 304.54,262.60 304.76,261.62 304.98,262.75 305.20,261.65 305.42,262.60 305.64,261.69 305.86,262.71" fill="none" stroke="#ff0000" stroke-width="0.55" stroke-linejoin="round"/>
<line x1="270.2" y1="262.2" x2="270.2" y2="196.5" stroke="#ff0000" stroke-width="0.9"/>
<line x1="268.5" y1="262.2" x2="268.5" y2="330.7" stroke="#ff0000" stroke-width="0.9"/>
<rect x="59.20" y="194.20" width="484.90" height="142.00" fill="none" stroke="#000" stroke-width="1.9"/>
<line x1="156.10" y1="335.30" x2="156.10" y2="332.80" stroke="#000" stroke-width="1.9"/>
<line x1="253.00" y1="335.30" x2="253.00" y2="330.30" stroke="#000" stroke-width="1.9"/>
<line x1="349.90" y1="335.30" x2="349.90" y2="332.80" stroke="#000" stroke-width="1.9"/>
<line x1="446.80" y1="335.30" x2="446.80" y2="330.30" stroke="#000" stroke-width="1.9"/>
<line x1="125.32" y1="195.10" x2="125.32" y2="197.60" stroke="#000" stroke-width="1.9"/>
<line x1="192.80" y1="195.10" x2="192.80" y2="200.10" stroke="#000" stroke-width="1.9"/>
<line x1="260.27" y1="195.10" x2="260.27" y2="197.60" stroke="#000" stroke-width="1.9"/>
<line x1="327.75" y1="195.10" x2="327.75" y2="200.10" stroke="#000" stroke-width="1.9"/>
<line x1="395.22" y1="195.10" x2="395.22" y2="197.60" stroke="#000" stroke-width="1.9"/>
<line x1="462.70" y1="195.10" x2="462.70" y2="200.10" stroke="#000" stroke-width="1.9"/>
<line x1="530.17" y1="195.10" x2="530.17" y2="197.60" stroke="#000" stroke-width="1.9"/>
<line x1="60.10" y1="319.55" x2="65.10" y2="319.55" stroke="#000" stroke-width="1.9"/>
<line x1="60.10" y1="290.88" x2="62.40" y2="290.88" stroke="#000" stroke-width="1.9"/>
<line x1="60.10" y1="262.20" x2="65.10" y2="262.20" stroke="#000" stroke-width="1.9"/>
<line x1="60.10" y1="233.52" x2="62.40" y2="233.52" stroke="#000" stroke-width="1.9"/>
<line x1="60.10" y1="204.85" x2="65.10" y2="204.85" stroke="#000" stroke-width="1.9"/>
<text x="35.37" y="350.20" font-family="'DejaVu Sans Condensed', 'DejaVu Sans', sans-serif" font-weight="bold" font-size="14" textLength="46.21" lengthAdjust="spacingAndGlyphs">13,800</text>
<text x="229.15" y="349.90" font-family="'DejaVu Sans Condensed', 'DejaVu Sans', sans-serif" font-weight="bold" font-size="14" textLength="46.94" lengthAdjust="spacingAndGlyphs">13,820</text>
<text x="423.47" y="349.80" font-family="'DejaVu Sans Condensed', 'DejaVu Sans', sans-serif" font-weight="bold" font-size="14" textLength="46.00" lengthAdjust="spacingAndGlyphs">13,840</text>
<text x="27.66" y="208.40" font-family="'DejaVu Sans Condensed', 'DejaVu Sans', sans-serif" font-weight="bold" font-size="14" textLength="25.12" lengthAdjust="spacingAndGlyphs">200</text>
<text x="44.75" y="266.10" font-family="'DejaVu Sans Condensed', 'DejaVu Sans', sans-serif" font-weight="bold" font-size="14" textLength="8.65" lengthAdjust="spacingAndGlyphs">0</text>
<text x="23.07" y="323.40" font-family="'DejaVu Sans Condensed', 'DejaVu Sans', sans-serif" font-weight="bold" font-size="14" textLength="29.70" lengthAdjust="spacingAndGlyphs">-200</text>
<text x="219.20" y="368.00" font-family="'DejaVu Sans Condensed', 'DejaVu Sans', sans-serif" font-weight="bold" font-size="15.0" textLength="101.48" lengthAdjust="spacingAndGlyphs">Effective (ps)</text>
<text transform="translate(16.10,317.02) rotate(-90)" x="0" y="0" font-family="'DejaVu Sans Condensed', 'DejaVu Sans', sans-serif" font-weight="bold" font-size="14.4" textLength="111.41" lengthAdjust="spacingAndGlyphs">Intensity (mV)</text>
<text x="71.70" y="214.60" font-family="'Liberation Serif', 'Times New Roman', serif" font-weight="bold" font-size="15" text-anchor="start" textLength="19.3" lengthAdjust="spacingAndGlyphs">(b)</text>
<line x1="237.9" y1="202.0" x2="261.5" y2="202.0" stroke="#000" stroke-width="2.3"/>
<path d="M231.3,202.0 L242.3,198.5 L240.98000000000002,202.0 L242.3,205.5 Z" fill="#000"/>
<path d="M268.1,202.0 L257.1,198.5 L258.42,202.0 L257.1,205.5 Z" fill="#000"/>
<text x="237.7" y="223.3" font-family="'Liberation Serif', 'Times New Roman', serif" font-size="20" textLength="13.0" lengthAdjust="spacingAndGlyphs">Δ</text>
<text x="252.2" y="223.3" font-family="'Liberation Serif', 'Times New Roman', serif" font-size="20.5" font-style="italic">t</text>
</svg>
</body></html>
